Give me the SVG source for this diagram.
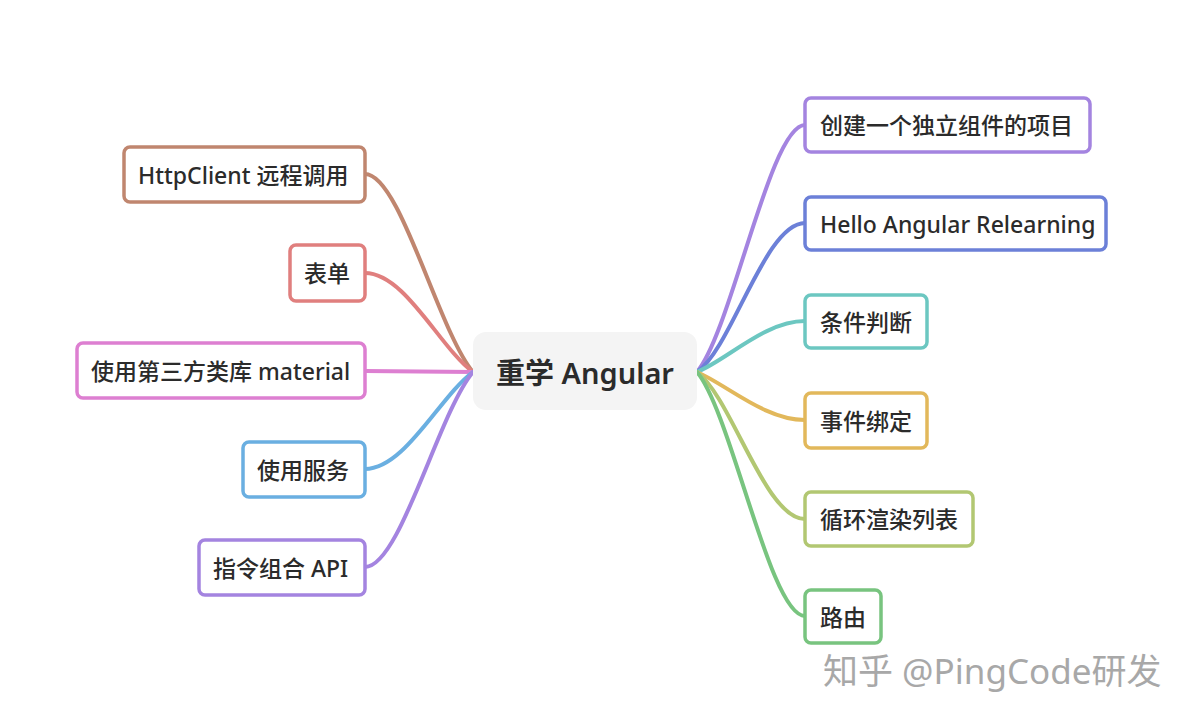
<svg xmlns="http://www.w3.org/2000/svg" width="1200" height="723" viewBox="0 0 1200 723">
<style>
.t{font-family:"Noto Sans","Noto Sans CJK SC",sans-serif;font-size:23px;font-weight:500;fill:#2b2b2b;dominant-baseline:central}
.box{fill:#fff;stroke-width:3.5}
.c{fill:none;stroke-width:4;stroke-linecap:round}
.root{font-family:"Noto Sans","Noto Sans CJK SC",sans-serif;font-size:29px;font-weight:600;fill:#2b2b2b;dominant-baseline:central}
.wm{font-family:"Noto Sans","Noto Sans CJK SC",sans-serif;font-size:35px;fill:#a8a8a8}
</style>
<rect width="1200" height="723" fill="#fff"/>
<g id="connectors">
<path class="c" stroke="#c0866f" d="M365,174 C400,174 438,330 473,372"/>
<path class="c" stroke="#e07f7e" d="M365,273 C405,273 440,348 473,372"/>
<path class="c" stroke="#dd7fd1" d="M365,371 L473,372"/>
<path class="c" stroke="#6aafe1" d="M365,469 C405,469 440,396 473,372"/>
<path class="c" stroke="#a484e0" d="M365,567 C400,567 438,414 473,372"/>
<path class="c" stroke="#a484e0" d="M805,125 C770,125 732,330 697,372"/>
<path class="c" stroke="#6c80d8" d="M805,223 C765,223 732,348 697,372"/>
<path class="c" stroke="#6cc7c1" d="M805,321 C765,321 727,360 697,372"/>
<path class="c" stroke="#e2b85b" d="M805,420 C765,420 727,385 697,372"/>
<path class="c" stroke="#b2c772" d="M805,519 C765,519 732,398 697,372"/>
<path class="c" stroke="#78c47f" d="M805,616 C770,616 732,414 697,372"/>
</g>
<g id="root">
<rect x="473" y="332" width="224" height="78" rx="13" fill="#f4f4f4"/>
<text class="root" x="585" y="372" text-anchor="middle">重学 Angular</text>
</g>
<g id="n-httpclient">
<rect class="box" x="124" y="147" width="241" height="55" rx="6" stroke="#c0866f"/>
<text class="t" x="138" y="175">HttpClient 远程调用</text>
</g>
<g id="n-form">
<rect class="box" x="290" y="245" width="75" height="56" rx="6" stroke="#e07f7e"/>
<text class="t" x="304" y="273">表单</text>
</g>
<g id="n-material">
<rect class="box" x="77" y="343" width="288" height="55" rx="6" stroke="#dd7fd1"/>
<text class="t" x="91" y="371">使用第三方类库 material</text>
</g>
<g id="n-service">
<rect class="box" x="243" y="442" width="122" height="55" rx="6" stroke="#6aafe1"/>
<text class="t" x="257" y="470">使用服务</text>
</g>
<g id="n-directive">
<rect class="box" x="199" y="540" width="166" height="55" rx="6" stroke="#a484e0"/>
<text class="t" x="213" y="568">指令组合 API</text>
</g>
<g id="n-create">
<rect class="box" x="805" y="98" width="285" height="54" rx="6" stroke="#a484e0"/>
<text class="t" x="820" y="125">创建一个独立组件的项目</text>
</g>
<g id="n-hello">
<rect class="box" x="805" y="197" width="301" height="53" rx="6" stroke="#6c80d8"/>
<text class="t" x="820" y="224">Hello Angular Relearning</text>
</g>
<g id="n-cond">
<rect class="box" x="805" y="295" width="122" height="53" rx="6" stroke="#6cc7c1"/>
<text class="t" x="820" y="322">条件判断</text>
</g>
<g id="n-event">
<rect class="box" x="805" y="393" width="122" height="55" rx="6" stroke="#e2b85b"/>
<text class="t" x="820" y="421">事件绑定</text>
</g>
<g id="n-loop">
<rect class="box" x="805" y="492" width="168" height="54" rx="6" stroke="#b2c772"/>
<text class="t" x="820" y="519">循环渲染列表</text>
</g>
<g id="n-route">
<rect class="box" x="805" y="590" width="76" height="53" rx="6" stroke="#78c47f"/>
<text class="t" x="820" y="617">路由</text>
</g>
<text class="wm" x="823" y="684">知乎 @PingCode研发</text>
</svg>
